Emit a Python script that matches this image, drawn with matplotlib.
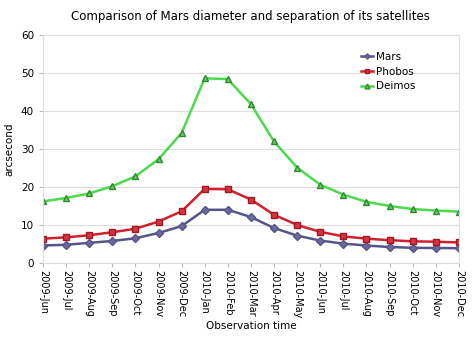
import matplotlib
matplotlib.use('Agg')
import matplotlib.pyplot as plt
import numpy as np

# data
months = ['2009-Jun', '2009-Jul', '2009-Aug', '2009-Sep', '2009-Oct', '2009-Nov',
          '2009-Dec', '2010-Jan', '2010-Feb', '2010-Mar', '2010-Apr', '2010-May',
          '2010-Jun', '2010-Jul', '2010-Aug', '2010-Sep', '2010-Oct', '2010-Nov',
          '2010-Dec']
mars = [4.6, 4.8, 5.3, 5.8, 6.5, 7.9, 9.7, 14.0, 14.0, 12.1, 9.2, 7.2, 5.9,
        5.1, 4.6, 4.2, 4.0, 3.95, 3.9]
phobos = [6.4, 6.75, 7.3, 8.1, 9.0, 10.9, 13.6, 19.5, 19.4, 16.7, 12.7, 10.0,
          8.2, 7.0, 6.4, 6.0, 5.7, 5.6, 5.4]
deimos = [16.2, 17.1, 18.3, 20.2, 22.8, 27.3, 34.2, 48.6, 48.4, 41.8, 32.0,
          25.1, 20.6, 18.0, 16.1, 15.0, 14.2, 13.8, 13.5]

fig = plt.figure(figsize=(4.74, 3.63), dpi=100)
ax = fig.add_axes([0.0907, 0.2755, 0.8773, 0.6281])

x = np.arange(len(months))
ax.plot(x, mars, color='#55558a', lw=1.8, marker='D', ms=3.8,
        mfc='#6a6a9a', mec='#55558a', label='Mars')
ax.plot(x, phobos, color='#d0202e', lw=1.8, marker='s', ms=5,
        mfc='#d83340', mec='#a01822', label='Phobos')
ax.plot(x, deimos, color='#4cd94c', lw=1.8, marker='^', ms=5,
        mfc='#66cc66', mec='#2e8a2e', label='Deimos')

ax.set_xlim(0, len(months) - 1)
ax.set_ylim(0, 60)
ax.set_yticks(range(0, 61, 10))
ax.set_xticks(x)
ax.set_xticklabels(months, rotation=270, fontsize=7)
ax.tick_params(axis='y', labelsize=7.5, length=3, color='#bbbbbb')
ax.tick_params(axis='x', length=3, color='#bbbbbb', pad=2)
ax.grid(axis='y', color='#dddddd', lw=0.8)
ax.set_axisbelow(True)
for s in ax.spines.values():
    s.set_color('#dddddd')
    s.set_linewidth(0.8)

ax.set_title('Comparison of Mars diameter and separation of its satellites',
             fontsize=8.5, pad=11)
ax.set_xlabel('Observation time', fontsize=7.5, labelpad=2)
ax.set_ylabel('arcsecond', fontsize=7.5, labelpad=5)

ax.legend(loc='upper left', bbox_to_anchor=(0.765, 0.925), frameon=False,
          fontsize=7.5, handlelength=1.1, handletextpad=0.3, labelspacing=0.45,
          markerscale=0.7, borderpad=0, borderaxespad=0)

fig.savefig('out.png', dpi=100)
